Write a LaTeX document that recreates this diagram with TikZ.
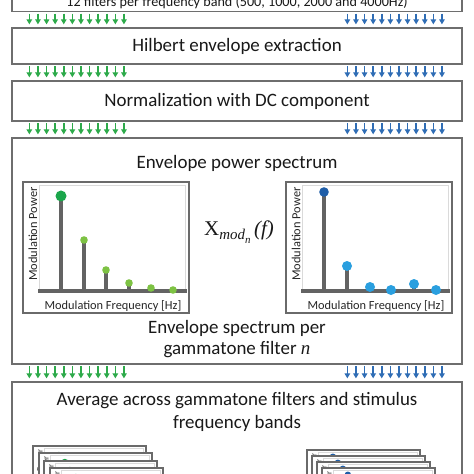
\documentclass[tikz,border=0pt]{standalone}
\usepackage{fontspec}
\setmainfont{Carlito}
\newfontfamily\tnr{Liberation Serif}
\usetikzlibrary{arrows.meta,calc}
\definecolor{boxgray}{HTML}{6E6E6E}
\definecolor{framegray}{HTML}{6A6A6A}
\definecolor{innergray}{HTML}{DADADA}
\definecolor{stemgray}{HTML}{636363}
\definecolor{agreen}{HTML}{2DAA4A}
\definecolor{ablue}{HTML}{2F6DB5}
\definecolor{dgreen}{HTML}{1BA64B}
\definecolor{lgreen}{HTML}{7DC243}
\definecolor{dblue}{HTML}{1F5EA8}
\definecolor{lblue}{HTML}{2A9FDF}
\tikzset{
 box/.style={draw=boxgray, line width=1.3bp, fill=white, inner sep=0pt, minimum width=450bp},
 garr/.style={draw=agreen, line width=1.6bp, -{Triangle[width=5.5bp,length=5bp]}},
 barr/.style={draw=ablue, line width=1.6bp, -{Triangle[width=5.5bp,length=5bp]}},
 txt/.style={font=\fontsize{19}{21}\selectfont, text=black!90, align=center},
}
% #1 x, #2 y, #3 scale, #4 dark, #5 light, #6 first stem, #7 other stems, #8 big radius, #9 small radius
\newcommand\specplot[9]{%
\begin{scope}[shift={(#1,-#2)}, scale=#3, transform shape]
 \fill[white] (0,0) rectangle (166,-131);
 \draw[innergray, line width=#3*1bp] (16,-4) rectangle (162,-109);
 \draw[framegray, line width=#3*2bp] (0,0) rectangle (166,-131);
 \node[font=\fontsize{12.4}{12}\selectfont, text=black!85, rotate=90] at (10,-52) {Modulation Power};
 \node[font=\fontsize{12.4}{12}\selectfont, text=black!85] at (90,-124) {Modulation Frequency [Hz]};
 \foreach \x/\t in {#6,#7} \draw[stemgray, line width=#3*3.2bp] (\x,-109) -- (\x,-\t);
 \draw[stemgray, line width=#3*3.8bp] (15,-109) -- (164,-109);
 \foreach \x/\t in {#6} \fill[#4] (\x,-\t) circle (#8);
 \foreach \x/\t in {#7} \fill[#5] (\x,-\t) circle (#9);
\end{scope}}
\newcommand\greenplot[3]{\specplot{#1}{#2}{#3}{dgreen}{lgreen}{38/14}{61/58,83/88,106/101,128/106,150/108}{5.5}{3.8}}
\newcommand\blueplot[3]{\specplot{#1}{#2}{#3}{dblue}{lblue}{38/10}{61/84,84/105,105/108,128/102,150/108}{4.8}{5}}
\begin{document}
\begin{tikzpicture}[x=1bp,y=1bp]
\useasboundingbox (0,0) rectangle (474,-474);
\clip (0,0) rectangle (474,-474);
\node[box, minimum height=31.5bp] (topb) at (237,4.25) {};
\node[txt, font=\fontsize{14.2}{17}\selectfont, anchor=base] (toptxt) at (237,-6.5) {12 filters per frequency band (500, 1000, 2000 and 4000Hz)};
\node[box, minimum height=36bp, txt] (hil) at (237,-46) {Hilbert envelope extraction};
\node[box, minimum height=40bp, txt] (norm) at (237,-101) {Normalization with DC component};
\node[box, minimum height=226bp] (env) at (237,-251) {};
\node[box, minimum height=130bp] (avg) at (237,-447) {};
\foreach \i in {0,...,11} {
 \draw[garr] ($(topb.south west)+(18+\i*8.6,-1.5)$) -- ($(hil.north west)+(18+\i*8.6,3)$);
 \draw[barr] ($(topb.south west)+(336+\i*8.6,-1.5)$) -- ($(hil.north west)+(336+\i*8.6,3)$);
 \draw[garr] ($(hil.south west)+(18+\i*8.6,-1.5)$) -- ($(norm.north west)+(18+\i*8.6,3)$);
 \draw[barr] ($(hil.south west)+(336+\i*8.6,-1.5)$) -- ($(norm.north west)+(336+\i*8.6,3)$);
 \draw[garr] ($(norm.south west)+(18+\i*8.6,-1.5)$) -- ($(env.north west)+(18+\i*8.6,3)$);
 \draw[barr] ($(norm.south west)+(336+\i*8.6,-1.5)$) -- ($(env.north west)+(336+\i*8.6,3)$);
 \draw[garr] ($(env.south west)+(18+\i*8.6,-1.5)$) -- ($(avg.north west)+(18+\i*8.6,3)$);
 \draw[barr] ($(env.south west)+(336+\i*8.6,-1.5)$) -- ($(avg.north west)+(336+\i*8.6,3)$);
}
\node[txt] (eps) at (237,-163) {Envelope power spectrum};
\greenplot{23}{182}{1}
\blueplot{286}{182}{1}
\node[text=black!90] (xmod) at (239,-232) {\tnr\fontsize{21}{21}\selectfont X\raisebox{-0.22em}{\fontsize{15}{15}\selectfont\itshape mod\raisebox{-0.25em}{\fontsize{11}{11}\selectfont n}}\itshape\,(f)};
\node[txt] (eps2) at (237,-339.5) {Envelope spectrum per\\gammatone filter {\tnr\itshape n}};
\node[txt, font=\fontsize{19}{23}\selectfont] (avgt) at (237,-411.5) {Average across gammatone filters and stimulus\\frequency bands};
\greenplot{33}{446}{0.68}
\greenplot{39}{453}{0.68}
\greenplot{44}{461}{0.68}
\greenplot{50}{468}{0.68}
\blueplot{307}{450}{0.68}
\blueplot{312}{456}{0.68}
\blueplot{317}{462}{0.68}
\blueplot{322}{468}{0.68}
\end{tikzpicture}
\end{document}
